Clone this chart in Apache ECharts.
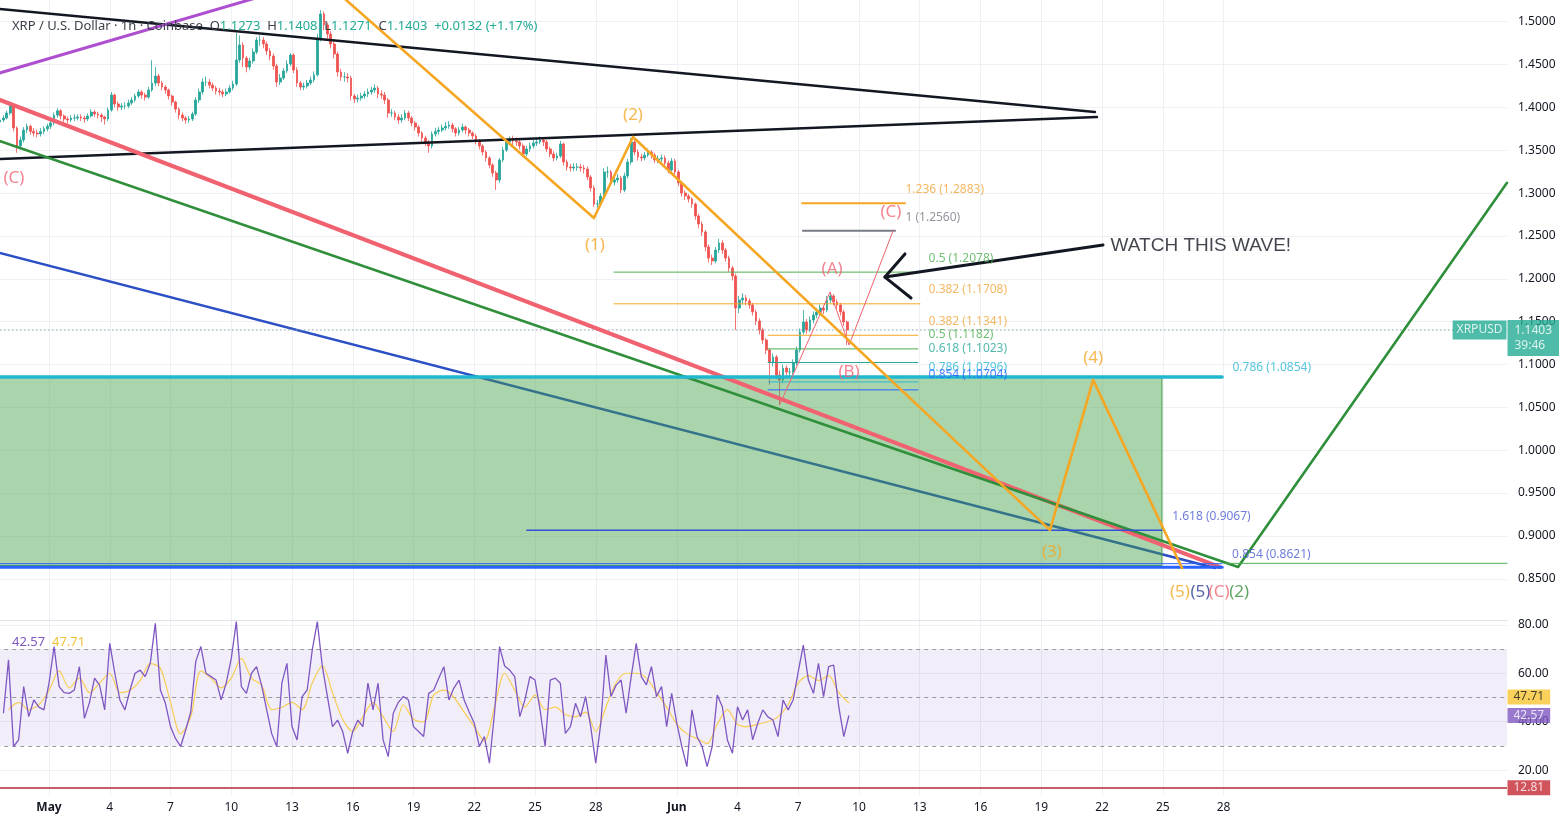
<!DOCTYPE html>
<html>
<head>
<meta charset="utf-8">
<title>XRPUSD 1h</title>
<script src="https://cdn.jsdelivr.net/npm/echarts@6/dist/echarts.min.js"></script>
<style>
html,body{margin:0;padding:0;background:#ffffff;overflow:hidden}
#chart{width:1568px;height:823px}
</style>
</head>
<body>
<div id="chart"></div>
<script>
// ================= DATA (x = days since May 1 00:00) =================
const candleStartDay = -2.5;      // Apr 28 12:00
const candleStepDays = 1 / 6;     // 4h candles
const firstOpen = 1.3830;
const closes = [
1.3853,1.3876,1.3934,1.4016,1.376,1.355,1.362,1.3736,1.378,1.372,1.370,1.369,
1.372,1.375,1.378,1.3818,1.391,1.396,1.390,1.3865,1.3853,1.3876,1.3876,1.3888,
1.3876,1.3865,1.390,1.3946,1.3923,1.391,1.3888,1.3865,1.397,1.4144,1.404,1.4005,
1.4016,1.4016,1.4051,1.4086,1.4133,1.418,1.4144,1.412,1.4203,1.4284,1.4366,1.4284,
1.4238,1.4203,1.4133,1.4063,1.398,1.391,1.3876,1.3853,1.3865,1.3923,1.4086,1.418,
1.4296,1.4296,1.426,1.4226,1.4191,1.418,1.4156,1.418,1.4226,1.4273,1.4553,1.4728,
1.4576,1.4471,1.4541,1.4646,1.4786,1.4786,1.474,1.4658,1.460,1.4483,1.4296,1.4343,
1.4425,1.4506,1.4611,1.4436,1.4284,1.4238,1.425,1.4284,1.432,1.438,1.481,1.509,
1.4962,1.4856,1.474,1.4623,1.4413,1.4355,1.4355,1.4343,1.4133,1.4098,1.411,1.4133,
1.4156,1.418,1.4203,1.4226,1.4156,1.4144,1.4086,1.3934,1.3934,1.3888,1.3853,1.3876,
1.3934,1.3876,1.3818,1.3771,1.3701,1.3642,1.3596,1.355,1.369,1.372,1.3736,1.376,
1.378,1.3795,1.375,1.3701,1.3736,1.3771,1.3736,1.3701,1.3666,1.3608,1.355,1.3479,
1.341,1.3328,1.3235,1.3153,1.3386,1.3503,1.3596,1.3619,1.3608,1.3596,1.355,1.3456,
1.3515,1.355,1.3584,1.3596,1.3619,1.3596,1.3515,1.3456,1.341,1.3433,1.3573,1.3363,
1.3304,1.3293,1.3304,1.3304,1.3293,1.3281,1.3188,1.306,1.2873,1.2873,1.2966,1.3246,
1.3246,1.3129,1.3153,1.3176,1.3036,1.32,1.3363,1.3596,1.3479,1.3421,1.341,1.3444,
1.3479,1.3444,1.3386,1.3398,1.341,1.3351,1.3269,1.3375,1.3246,1.3118,1.3001,1.2966,
1.2931,1.2873,1.2733,1.2639,1.2546,1.2371,1.2242,1.2207,1.2336,1.2418,1.2336,1.2242,
1.2126,1.2032,1.1659,1.1753,1.1776,1.1741,1.1694,1.1613,1.1508,1.1402,1.1286,1.1169,
1.1029,1.1087,1.0877,1.0819,1.0959,1.0912,1.0912,1.1017,1.1169,1.1379,1.1496,1.1402,
1.1519,1.1578,1.1613,1.1659,1.1636,1.1753,1.18,1.173,1.1694,1.1613,1.1496,1.1403];
const highs = [
1.389,1.391,1.396,1.407,1.403,1.378,1.366,1.377,1.381,1.380,1.376,1.374,
1.376,1.378,1.381,1.385,1.394,1.399,1.398,1.392,1.389,1.391,1.392,1.392,
1.392,1.390,1.393,1.398,1.397,1.395,1.393,1.390,1.400,1.418,1.416,1.407,
1.405,1.406,1.409,1.412,1.416,1.421,1.420,1.417,1.424,1.455,1.447,1.439,
1.431,1.426,1.422,1.415,1.408,1.400,1.394,1.390,1.390,1.395,1.412,1.422,
1.434,1.436,1.433,1.429,1.425,1.423,1.421,1.422,1.426,1.431,1.487,1.484,
1.476,1.460,1.458,1.469,1.482,1.484,1.482,1.477,1.469,1.463,1.451,1.439,
1.446,1.455,1.4635,1.463,1.447,1.431,1.429,1.432,1.436,1.442,1.486,1.5136,
1.512,1.499,1.489,1.477,1.465,1.445,1.441,1.440,1.437,1.416,1.415,1.417,
1.419,1.422,1.424,1.427,1.425,1.420,1.418,1.411,1.398,1.396,1.392,1.392,
1.397,1.396,1.390,1.384,1.379,1.372,1.367,1.362,1.372,1.376,1.377,1.380,
1.383,1.384,1.382,1.377,1.377,1.381,1.379,1.376,1.372,1.369,1.363,1.357,
1.350,1.343,1.335,1.326,1.341,1.354,1.363,1.366,1.367,1.365,1.362,1.358,
1.355,1.359,1.362,1.363,1.366,1.365,1.362,1.354,1.349,1.347,1.361,1.359,
1.339,1.334,1.335,1.335,1.334,1.333,1.331,1.321,1.309,1.292,1.300,1.329,
1.331,1.327,1.319,1.322,1.320,1.324,1.340,1.3645,1.362,1.351,1.346,1.348,
1.352,1.350,1.347,1.344,1.345,1.344,1.338,1.341,1.340,1.327,1.314,1.303,
1.299,1.295,1.289,1.276,1.267,1.257,1.240,1.228,1.237,1.2465,1.245,1.236,
1.227,1.215,1.206,1.180,1.183,1.181,1.177,1.172,1.164,1.154,1.143,1.131,
1.119,1.113,1.111,1.093,1.100,1.099,1.096,1.106,1.121,1.142,1.1636,1.153,
1.156,1.162,1.166,1.170,1.169,1.180,1.1834,1.182,1.176,1.172,1.164,1.1512];
const lows = [
1.380,1.383,1.386,1.391,1.372,1.347,1.351,1.359,1.370,1.368,1.366,1.365,
1.366,1.369,1.372,1.375,1.379,1.388,1.386,1.383,1.381,1.383,1.384,1.385,
1.384,1.382,1.384,1.388,1.389,1.387,1.383,1.380,1.384,1.395,1.400,1.396,
1.397,1.398,1.399,1.403,1.406,1.411,1.410,1.408,1.410,1.418,1.425,1.425,
1.420,1.416,1.409,1.402,1.394,1.386,1.384,1.381,1.382,1.384,1.390,1.405,
1.415,1.425,1.422,1.419,1.415,1.414,1.412,1.413,1.416,1.420,1.425,1.452,
1.447,1.441,1.444,1.451,1.462,1.472,1.469,1.461,1.455,1.444,1.424,1.426,
1.432,1.440,1.448,1.440,1.424,1.420,1.420,1.422,1.426,1.429,1.436,1.477,
1.490,1.480,1.469,1.457,1.436,1.431,1.430,1.429,1.408,1.405,1.406,1.408,
1.410,1.412,1.415,1.417,1.411,1.410,1.404,1.388,1.389,1.385,1.381,1.382,
1.385,1.384,1.378,1.373,1.366,1.360,1.355,1.347,1.352,1.366,1.368,1.371,
1.373,1.375,1.371,1.366,1.367,1.371,1.369,1.366,1.363,1.357,1.351,1.344,
1.337,1.329,1.319,1.3036,1.312,1.336,1.348,1.357,1.356,1.355,1.351,1.342,
1.343,1.348,1.352,1.355,1.357,1.355,1.348,1.342,1.337,1.338,1.341,1.332,
1.326,1.325,1.326,1.326,1.325,1.323,1.315,1.302,1.2838,1.283,1.285,1.294,
1.318,1.309,1.309,1.312,1.300,1.301,1.317,1.333,1.344,1.338,1.337,1.338,
1.342,1.340,1.335,1.335,1.336,1.331,1.323,1.325,1.321,1.308,1.296,1.292,
1.289,1.283,1.269,1.259,1.250,1.232,1.219,1.216,1.218,1.230,1.229,1.220,
1.208,1.198,1.1402,1.160,1.170,1.169,1.165,1.157,1.146,1.135,1.124,1.112,
1.0761,1.098,1.083,1.0527,1.078,1.086,1.084,1.088,1.099,1.114,1.135,1.136,
1.138,1.148,1.154,1.158,1.159,1.161,1.172,1.169,1.165,1.157,1.145,1.1227];
const legendOHLC = { o: '1.1273', h: '1.1408', l: '1.1271', c: '1.1403', chg: '+0.0132 (+1.17%)' };
const lastPrice = 1.1403;
const countdown = '39:46';

const rsiStartDay = -2.25, rsiStepDays = 0.25;   // 6h samples
const rsiValues = [
43.5,65.5,29.8,32.5,54.5,42.1,49,46,44.9,55.9,
71,54.5,52,51.7,53.1,62.7,41.4,48,58,55,
44.9,72.3,60,49,44.9,53.1,60,61.3,58.6,64.1,
80.6,53.1,47.6,38,33,29.8,36.6,44,65,71,
60,58.6,57.2,49,55.9,66,81.3,54.5,51.7,60,
62.7,55,44.9,35,29.8,55.9,64.1,38,32.5,50.4,
53.1,69.6,81.3,62.7,50.4,38,40.7,36,27,36,
40.7,38,55.9,44.9,55.9,32.5,25.6,43.5,48,50.4,
49,38,36,33.9,51.7,53.1,58,62.7,49,54,
57.2,49,44,39.4,29.8,33.9,22.9,43.5,71,63,
61.3,58.6,42.1,49,58.6,57.2,45,29.8,57.2,58,
55.9,35.2,38,47.6,42.1,50.4,38,22.9,39.4,67.5,
50.4,55,57.2,43.5,58.6,72.3,58.6,55.2,62.7,50.4,
54.5,38,51.7,39.4,29.8,21.5,44.9,33.9,29.8,21.5,
29.8,51,46.2,32.5,27,46.2,40.7,44.9,32.5,39.4,
44.9,42,40.7,33.9,49,44.9,49,60.7,71.6,57.2,
51.7,64.1,50.4,62.7,63.4,46.2,33.9,42.57];
const rsiMaStartDay = -2, rsiMaStepDays = 0.5;   // 12h samples
const rsiMaValues = [
45,48,45,47,53,61,54,58,52,56,
60,52,53,57,64,62,48,35,42,61,
58,54,58,66,58,55,45,46,48,45,
56,63,52,41,36,42,48,42,36,47,
41,40,51,53,50,44,38,32,46,60,
53,46,51,45,46,43,42,44,36,46,
56,60,60,58,52,46,39,35,33,31,
39,45,39,38,39,40,42,47,56,59,
57,59,52,47.71];
const rsiLast = 42.57, rsiMaLast = 47.71, lowerLineValue = 12.81;
const rsiBandLevels = [70, 50, 30];

const tickDays  = [0,3,6,9,12,15,18,21,24,27,31,34,37,40,43,46,49,52,55,58];
const tickTexts = ['May','4','7','10','13','16','19','22','25','28','Jun','4','7','10','13','16','19','22','25','28'];
const monthTexts = ['May','Jun'];

// drawings, points as [day, price]
const trendLines = {
  blue:        [[-3, 1.2336], [57.58, 0.8626]],
  blackUpper:  [[-3, 1.5161], [51.65, 1.3946]],
  blackLower:  [[-3, 1.3393], [51.75, 1.3888]],
  purple:      [[-3, 1.4362], [11.56, 1.537]],
  red:         [[-3, 1.4139], [57.83, 0.8637]],
  greenWave:   [[-3, 1.3655], [58.72, 0.8637], [72, 1.312]],
  cyan:        [[-3, 1.0854], [57.93, 1.0854]],
  baseBlue:    [[-3, 0.8633], [57.93, 0.8633]],
  baseBlueThin:[[-3, 0.8676], [57.93, 0.8676]],
  fibRight:    [[58.07, 0.8680], [72, 0.8680]],
  fib1618:     [[23.6, 0.9067], [54.96, 0.9067]],
  fib1236:     [[37.19, 1.2883], [42.27, 1.2883]],
  fib1000:     [[37.23, 1.2560], [41.78, 1.2560]],
  fibUp500:    [[27.9, 1.2078], [43.01, 1.2078]],
  fibUp382:    [[27.9, 1.1708], [43.01, 1.1708]],
  fibLo382:    [[35.51, 1.1341], [42.91, 1.1341]],
  fibLo500:    [[35.51, 1.1182], [42.91, 1.1182]],
  fibLo618:    [[35.51, 1.1023], [42.91, 1.1023]],
  fibLo786:    [[35.51, 1.0796], [42.91, 1.0796]],
  fibLo854:    [[35.51, 1.0704], [42.91, 1.0704]],
  abc:         [[36.1, 1.0539], [38.57, 1.1846], [39.51, 1.1227], [41.68, 1.2558]],
  orangeWave:  [[13.83, 1.5428], [26.91, 1.2709], [28.84, 1.3655], [49.43, 0.9067], [51.56, 1.082], [55.95, 0.8626]],
  arrowShaft:  [[52.05, 1.2394], [41.28, 1.2020]],
  arrowHead:   [[42.27, 1.2290], [41.28, 1.2020], [42.57, 1.1776]],
  lastPriceLine: [[-3, 1.1403], [72, 1.1403]]
};
const greenZone = [[-3, 0.8655], [54.96, 1.0854]];

const annotations = [
  ['(C)', -1.73, 1.3176, 'waveRed'],
  ['(1)', 26.96, 1.2394, 'waveOrange'],
  ['(2)', 28.84, 1.3911, 'waveOrange'],
  ['(A)', 38.67, 1.2114, 'waveRed'],
  ['(B)', 39.51, 1.0913, 'waveRed'],
  ['(C)', 41.58, 1.2783, 'waveRed'],
  ['(3)', 49.53, 0.8812, 'waveOrange'],
  ['(4)', 51.56, 1.1076, 'waveOrange'],
  ['(5)', 55.85, 0.8349, 'waveOrange'],
  ['(5)', 56.86, 0.8349, 'waveNavy'],
  ['(C)', 57.78, 0.8349, 'waveRed'],
  ['(2)', 58.77, 0.8349, 'waveGreen'],
  ['1.236 (1.2883)', 42.27, 1.3036, 'fibOrange'],
  ['1 (1.2560)', 42.27, 1.2718, 'fibGrey'],
  ['0.5 (1.2078)', 43.41, 1.2239, 'fibGreen'],
  ['0.382 (1.1708)', 43.41, 1.1878, 'fibOrange'],
  ['0.382 (1.1341)', 43.41, 1.1499, 'fibOrange'],
  ['0.5 (1.1182)', 43.41, 1.1344, 'fibGreen'],
  ['0.618 (1.1023)', 43.41, 1.1180, 'fibTeal'],
  ['0.786 (1.0796)', 43.41, 1.0967, 'fibCyan'],
  ['0.854 (1.0704)', 43.41, 1.0878, 'fibBlue'],
  ['0.786 (1.0854)', 58.42, 1.0966, 'fibCyan'],
  ['1.618 (0.9067)', 55.44, 0.9224, 'fibIndigo'],
  ['0.854 (0.8621)', 58.40, 0.8777, 'fibIndigo'],
  ['WATCH THIS WAVE!', 52.40, 1.2383, 'callout']
];

// ================= STYLES / LAYOUT =================
const baseFont = '"Noto Sans", "DejaVu Sans", sans-serif';
const axisDayMin = -3, axisDayMax = 72;
const priceMin = 0.80187, priceMax = 1.52532;
const rsiMin = 9.79, rsiMax = 81.96;
const UP = '#26a69a', DOWN = '#ef5350';

const lineStyles = {
  blue:        { color: '#2b4fc4', width: 2.5, z: 2 },
  blackUpper:  { color: '#131722', width: 2.5, z: 4 },
  blackLower:  { color: '#131722', width: 2.5, z: 4 },
  purple:      { color: '#ae4fcf', width: 3, z: 4 },
  red:         { color: '#f0626f', width: 4, z: 4 },
  greenWave:   { color: '#2f8f3a', width: 2.6, z: 4 },
  cyan:        { color: '#1fb8d0', width: 3.5, z: 4 },
  baseBlue:    { color: '#2962ff', width: 3, z: 4 },
  baseBlueThin:{ color: '#2962ff', width: 1, z: 4 },
  fibRight:    { color: '#4caf50', width: 1, z: 4 },
  fib1618:     { color: '#3050d8', width: 1.5, z: 4 },
  fib1236:     { color: '#f5a623', width: 2, z: 4 },
  fib1000:     { color: '#787b86', width: 2, z: 4 },
  fibUp500:    { color: '#4caf50', width: 1, z: 4 },
  fibUp382:    { color: '#f5a623', width: 1, z: 4 },
  fibLo382:    { color: '#f5a623', width: 1, z: 4 },
  fibLo500:    { color: '#4caf50', width: 1, z: 4 },
  fibLo618:    { color: '#26a69a', width: 1, z: 4 },
  fibLo786:    { color: '#29b6d6', width: 1, z: 4 },
  fibLo854:    { color: '#2962ff', width: 1, z: 4 },
  abc:         { color: '#f0626f', width: 1, z: 5 },
  orangeWave:  { color: '#f5a623', width: 2.6, z: 5 },
  arrowShaft:  { color: '#131722', width: 3, z: 6 },
  arrowHead:   { color: '#131722', width: 3, z: 6 },
  lastPriceLine: { color: '#8fa6b3', width: 1, z: 3, type: [1, 3] }
};
const textKinds = {
  waveOrange: { color: '#f5a623', size: 17, align: 'center' },
  waveRed:    { color: '#f06476', size: 17, align: 'center' },
  waveNavy:   { color: '#2b3c96', size: 17, align: 'center' },
  waveGreen:  { color: '#388e3c', size: 17, align: 'center' },
  fibOrange:  { color: '#f2a53c', size: 12, align: 'left' },
  fibGrey:    { color: '#787b86', size: 12, align: 'left' },
  fibGreen:   { color: '#4caf50', size: 12, align: 'left' },
  fibTeal:    { color: '#26a69a', size: 12, align: 'left' },
  fibCyan:    { color: '#29b6d6', size: 12, align: 'left' },
  fibBlue:    { color: '#2962ff', size: 12, align: 'left' },
  fibIndigo:  { color: '#4a5bd4', size: 12, align: 'left' },
  callout:    { color: '#131722', size: 19, align: 'left', font: '"Liberation Sans", Arial, sans-serif' }
};

// ================= BUILD =================
const candleData = closes.map((c, i) => {
  const o = i === 0 ? firstOpen : closes[i - 1];
  return [candleStartDay + (i + 0.5) * candleStepDays, o, c, lows[i], highs[i]];
});
const rsiData = rsiValues.map((v, j) => [rsiStartDay + j * rsiStepDays, v]);
const rsiMaData = rsiMaValues.map((v, k) => [rsiMaStartDay + k * rsiMaStepDays, v]);

const dayCats = [];
for (let d = axisDayMin; d <= axisDayMax; d++) {
  const idx = tickDays.indexOf(d);
  dayCats.push(idx >= 0 ? tickTexts[idx] : '');
}
const showTick = (index, value) => value !== '';

const series = [];
series.push({
  type: 'candlestick', name: 'XRPUSD', xAxisIndex: 0, yAxisIndex: 0, z: 2,
  dimensions: ['x', 'open', 'close', 'lowest', 'highest'],
  encode: { x: 'x', y: ['open', 'close', 'lowest', 'highest'] },
  data: candleData, barWidth: 2.2, silent: true,
  itemStyle: { color: UP, color0: DOWN, borderColor: UP, borderColor0: DOWN, borderWidth: 0.8 }
});
Object.keys(trendLines).forEach(key => {
  const st = lineStyles[key];
  series.push({
    type: 'line', xAxisIndex: 0, yAxisIndex: 0, z: st.z, silent: true,
    data: trendLines[key], symbol: 'none', showSymbol: false,
    lineStyle: { color: st.color, width: st.width, type: st.type || 'solid', cap: 'round', join: 'round' }
  });
});
// green zone rectangle (above candles and the blue line, below the other drawings)
series.push({
  type: 'line', xAxisIndex: 0, yAxisIndex: 0, z: 3, silent: true, symbol: 'none',
  data: greenZone, lineStyle: { opacity: 0 },
  markArea: {
    silent: true, z: 3,
    itemStyle: { color: 'rgba(67,160,71,0.45)', borderColor: '#43a047', borderWidth: 1 },
    data: [[{ coord: greenZone[0] }, { coord: greenZone[1] }]]
  }
});
// text annotations
series.push({
  type: 'scatter', xAxisIndex: 0, yAxisIndex: 0, z: 10, silent: true, clip: false,
  symbol: 'circle', symbolSize: 1, itemStyle: { color: 'rgba(0,0,0,0)' },
  data: annotations.map(a => {
    const k = textKinds[a[3]];
    return {
      value: [a[1], a[2]],
      label: {
        show: true, formatter: a[0], position: k.align === 'left' ? 'right' : 'inside', distance: 0,
        color: k.color, fontSize: k.size, fontFamily: k.font || baseFont
      }
    };
  })
});
// price tags on right
series.push({
  type: 'scatter', xAxisIndex: 0, yAxisIndex: 0, z: 12, silent: true, clip: false,
  symbol: 'circle', symbolSize: 1, itemStyle: { color: 'rgba(0,0,0,0)' },
  data: [
    { value: [axisDayMax, lastPrice], label: { show: true, position: 'left', distance: 0, formatter: 'XRPUSD',
      backgroundColor: '#22ab94', color: '#ffffff', padding: [4, 4, 3, 4], fontSize: 12, fontFamily: baseFont } },
    { value: [axisDayMax, lastPrice], label: { show: true, position: 'right', distance: 0,
      formatter: lastPrice.toFixed(4) + '\n' + countdown, offset: [0, 8],
      backgroundColor: '#22ab94', color: '#ffffff', padding: [3, 7, 3, 7], lineHeight: 15, fontSize: 12, fontFamily: baseFont } }
  ]
});
// RSI background band + dashed levels + lower red line
series.push({
  type: 'line', xAxisIndex: 1, yAxisIndex: 1, z: 1, silent: true, symbol: 'none',
  data: [[axisDayMin, 50], [axisDayMax, 50]], lineStyle: { opacity: 0 },
  markArea: { silent: true, z: 1, itemStyle: { color: 'rgba(126,87,194,0.1)' },
    data: [[{ yAxis: rsiBandLevels[2] }, { yAxis: rsiBandLevels[0] }]] },
  markLine: { silent: true, z: 2, symbol: ['none', 'none'], label: { show: false },
    data: rsiBandLevels.map(v => ({ yAxis: v, lineStyle: { color: '#9598a1', type: [4, 4], width: 1 } }))
      .concat([{ yAxis: lowerLineValue, lineStyle: { color: '#b22833', type: 'solid', width: 1.5 } }]) }
});
series.push({
  type: 'line', xAxisIndex: 1, yAxisIndex: 1, z: 3, silent: true, symbol: 'none',
  data: rsiMaData, smooth: 0.3, lineStyle: { color: '#f7cd55', width: 1.2 }
});
series.push({
  type: 'line', xAxisIndex: 1, yAxisIndex: 1, z: 4, silent: true, symbol: 'none',
  data: rsiData, lineStyle: { color: '#7e57c2', width: 1.3 }
});
series.push({
  type: 'scatter', xAxisIndex: 1, yAxisIndex: 1, z: 12, silent: true, clip: false,
  symbol: 'circle', symbolSize: 1, itemStyle: { color: 'rgba(0,0,0,0)' },
  data: [
    { value: [axisDayMax, rsiMaLast], label: { show: true, position: 'right', distance: 0, offset: [0, -6],
      formatter: rsiMaLast.toFixed(2), backgroundColor: '#f7c531', color: '#131722', padding: [2, 6, 1, 6], fontSize: 12, fontFamily: baseFont } },
    { value: [axisDayMax, rsiLast], label: { show: true, position: 'right', distance: 0,
      formatter: rsiLast.toFixed(2), backgroundColor: '#7e57c2', color: '#ffffff', padding: [2, 6, 1, 6], fontSize: 12, fontFamily: baseFont } },
    { value: [axisDayMax, lowerLineValue], label: { show: true, position: 'right', distance: 0,
      formatter: lowerLineValue.toFixed(2), backgroundColor: '#c62832', color: '#ffffff', padding: [2, 6, 1, 6], fontSize: 12, fontFamily: baseFont } }
  ]
});

const gridLeft = -11.75, gridRight = 61;
const option = {
  animation: false,
  backgroundColor: '#ffffff',
  textStyle: { fontFamily: baseFont },
  title: [
    { left: 7, top: 15, text:
      '{n|XRP / U.S. Dollar · 1h · Coinbase}  {k|O}{v|' + legendOHLC.o + '}  {k|H}{v|' + legendOHLC.h +
      '}  {k|L}{v|' + legendOHLC.l + '}  {k|C}{v|' + legendOHLC.c + '}  {v|' + legendOHLC.chg + '}',
      textStyle: { fontSize: 13, fontWeight: 'normal', rich: {
        n: { color: '#3b3f4a', fontSize: 13, fontFamily: baseFont },
        k: { color: '#3b3f4a', fontSize: 13, fontFamily: baseFont },
        v: { color: '#22ab94', fontSize: 13, fontFamily: baseFont } } } },
    { left: 7, top: 631, text: '{p|' + rsiLast.toFixed(2) + '}  {y|' + rsiMaLast.toFixed(2) + '}',
      textStyle: { fontSize: 13, fontWeight: 'normal', rich: {
        p: { color: '#7e57c2', fontSize: 13, fontFamily: baseFont },
        y: { color: '#f2c23a', fontSize: 13, fontFamily: baseFont } } } }
  ],
  grid: [
    { left: gridLeft, right: gridRight, top: 0, height: 620, containLabel: false, outerBoundsMode: 'none' },
    { left: gridLeft, right: gridRight, top: 620, height: 175, containLabel: false, outerBoundsMode: 'none' }
  ],
  xAxis: [
    { type: 'value', gridIndex: 0, position: 'bottom', min: axisDayMin, max: axisDayMax, show: false },
    { type: 'value', gridIndex: 1, position: 'bottom', min: axisDayMin, max: axisDayMax, show: false },
    { type: 'category', gridIndex: 0, position: 'bottom', data: dayCats, boundaryGap: false,
      axisLine: { show: true, lineStyle: { color: '#dfe2ea', width: 1 } }, axisTick: { show: false },
      axisLabel: { show: false }, splitLine: { show: true, interval: showTick, lineStyle: { color: '#eef0f4' } } },
    { type: 'category', gridIndex: 1, position: 'bottom', data: dayCats, boundaryGap: false,
      axisLine: { show: false }, axisTick: { show: false },
      axisLabel: { show: true, interval: showTick, margin: 7, color: '#131722', fontSize: 12, fontFamily: baseFont,
        formatter: v => monthTexts.indexOf(v) >= 0 ? '{b|' + v + '}' : v,
        rich: { b: { fontWeight: 'bold', color: '#131722', fontSize: 12, fontFamily: baseFont } } },
      splitLine: { show: true, interval: showTick, lineStyle: { color: '#eef0f4' } } }
  ],
  yAxis: [
    { type: 'value', gridIndex: 0, position: 'right', min: priceMin, max: priceMax,
      splitNumber: 14, minInterval: 0.05, maxInterval: 0.05,
      axisLine: { show: false }, axisTick: { show: false },
      axisLabel: { show: true, margin: 11, color: '#131722', fontSize: 12, fontFamily: baseFont,
        showMinLabel: false, showMaxLabel: false, formatter: v => v.toFixed(4) },
      splitLine: { show: true, showMaxLine: false, lineStyle: { color: '#eef0f4' } } },
    { type: 'value', gridIndex: 1, position: 'right', min: rsiMin, max: rsiMax,
      splitNumber: 4, minInterval: 20, maxInterval: 20,
      axisLine: { show: false }, axisTick: { show: false },
      axisLabel: { show: true, margin: 11, color: '#131722', fontSize: 12, fontFamily: baseFont,
        showMinLabel: false, showMaxLabel: false, formatter: v => v.toFixed(2) },
      splitLine: { show: true, showMinLine: false, lineStyle: { color: '#eef0f4' } } }
  ],
  series: series
};

const chart = echarts.init(document.getElementById('chart'), null, { width: 1568, height: 823 });
chart.setOption(option);
</script>
</body>
</html>
